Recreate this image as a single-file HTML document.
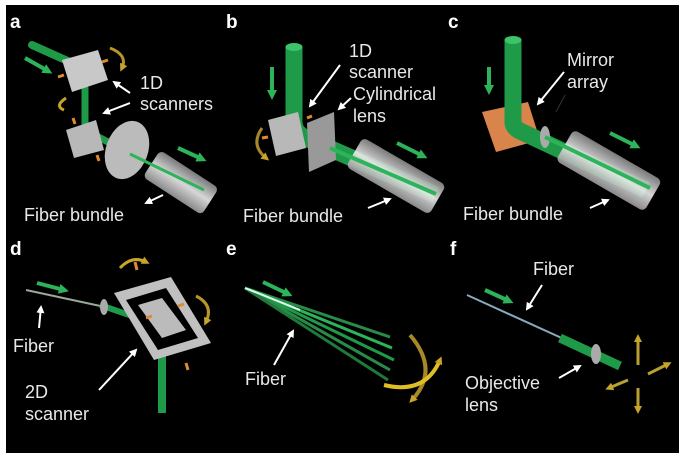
<!DOCTYPE html>
<html><head><style>html,body{margin:0;padding:0;background:#fff}svg{display:block}</style></head><body>
<svg width="685" height="458" viewBox="0 0 685 458" xmlns="http://www.w3.org/2000/svg" font-family="Liberation Sans, sans-serif">
<defs>
<marker id="w" markerWidth="8" markerHeight="8" refX="6" refY="4" orient="auto" markerUnits="userSpaceOnUse"><path d="M0,0 L8,4 L0,8 z" fill="#fff"/></marker>
<marker id="g" markerWidth="10" markerHeight="10" refX="5" refY="5" orient="auto" markerUnits="userSpaceOnUse"><path d="M0,0 L10,5 L0,10 z" fill="#2db35a"/></marker>
<marker id="y" markerWidth="8" markerHeight="8" refX="4" refY="4" orient="auto" markerUnits="userSpaceOnUse"><path d="M0,0 L8,4 L0,8 z" fill="#c9a42a"/></marker>
<linearGradient id="bun" x1="0" y1="0" x2="0" y2="1"><stop offset="0" stop-color="#888"/><stop offset=".5" stop-color="#eee"/><stop offset="1" stop-color="#999"/></linearGradient>
</defs>
<rect x="6" y="5" width="673" height="448" fill="#000"/>

<!-- panel a -->
<g stroke-linecap="round" fill="none">
<path d="M32,45 L70,62" stroke="#1f9a48" stroke-width="8"/>
<path d="M85,88 L85,130 L108,142" stroke="#1f9a48" stroke-width="7"/>
</g>
<polygon points="62,60 98,50 108,80 72,92" fill="#c8c8c8"/>
<polygon points="66,130 96,120 104,150 74,158" fill="#b8b8b8"/>
<g stroke="#e08a30" stroke-width="3"><path d="M58,77 L64,75"/><path d="M102,62 L108,60"/><path d="M73,118 L75,124"/><path d="M97,155 L99,161"/></g>
<ellipse cx="127" cy="150" rx="21" ry="30" fill="#bbb" transform="rotate(20 127 150)"/>
<g transform="rotate(33 180 182)"><rect x="146" y="166" width="70" height="32" rx="5" fill="url(#bun)" opacity=".9"/></g>
<path d="M130,154 L204,190" stroke="#2db35a" stroke-width="3"/>
<path d="M25,58 L48,71" stroke="#2db35a" stroke-width="4" marker-end="url(#g)"/>
<path d="M178,148 L202,159" stroke="#2db35a" stroke-width="4" marker-end="url(#g)"/>
<path d="M110,48 Q128,55 122,68" stroke="#b8952a" stroke-width="3" fill="none" marker-end="url(#y)"/>
<path d="M66,98 Q54,106 64,110" stroke="#c9a42a" stroke-width="3" fill="none"/>
<g stroke="#fff" stroke-width="2" fill="none" marker-end="url(#w)"><path d="M130,93 L114,82"/><path d="M130,103 L104,113"/><path d="M163,195 L146,203"/></g>

<!-- panel b -->
<path d="M294,47 L294,122 Q294,132 304,137 L436,195" stroke="#1f9a48" stroke-width="17" fill="none"/>
<ellipse cx="294" cy="47" rx="8.5" ry="4" fill="#3cc46a"/>
<polygon points="268,120 298,112 306,148 276,156" fill="#b8b8b8"/>
<g stroke="#e08a30" stroke-width="3"><path d="M262,138 L268,137"/><path d="M307,118 L312,116"/></g>
<polygon points="307,123 334,112 336,160 309,172" fill="#999"/>
<g transform="rotate(30 396 176)"><rect x="348" y="159" width="96" height="34" rx="5" fill="url(#bun)" opacity=".9"/></g>
<path d="M330,148 L436,194" stroke="#2db35a" stroke-width="4"/>
<path d="M272,67 L272,95" stroke="#2db35a" stroke-width="4" marker-end="url(#g)"/>
<path d="M397,143 L423,156" stroke="#2db35a" stroke-width="4" marker-end="url(#g)"/>
<path d="M262,128 Q250,145 266,158" stroke="#a8862a" stroke-width="3" fill="none" marker-end="url(#y)"/>
<g stroke="#fff" stroke-width="2" fill="none" marker-end="url(#w)"><path d="M340,65 L310,106"/><path d="M351,98 L339,109"/><path d="M368,208 L390,199"/></g>

<!-- panel c -->
<polygon points="482,112 528,102 540,140 496,152" fill="#d8844a"/>
<path d="M513,40 L513,122 Q513,128 522,132 L646,190" stroke="#1f9a48" stroke-width="17" fill="none"/>
<ellipse cx="513" cy="40" rx="8.5" ry="4" fill="#3cc46a"/>
<ellipse cx="545" cy="137" rx="5" ry="11" fill="#aaa"/>
<g transform="rotate(30 608 170)"><rect x="558" y="152" width="102" height="36" rx="5" fill="url(#bun)" opacity=".9"/></g>
<path d="M545,137 L650,188" stroke="#2db35a" stroke-width="4"/>
<path d="M489,67 L489,90" stroke="#2db35a" stroke-width="4" marker-end="url(#g)"/>
<path d="M610,133 L636,146" stroke="#2db35a" stroke-width="4" marker-end="url(#g)"/>
<path d="M565,95 L556,112" stroke="#333" stroke-width="1"/>
<g stroke="#fff" stroke-width="2" fill="none" marker-end="url(#w)"><path d="M564,72 L538,104"/><path d="M590,208 L608,200"/></g>

<!-- panel d -->
<path d="M26,290 L105,307" stroke="#9a9" stroke-width="2"/>
<path d="M100,305 L150,322" stroke="#1f9a48" stroke-width="6"/>
<ellipse cx="104" cy="307" rx="4" ry="8" fill="#aaa"/>
<path d="M162,350 L162,413" stroke="#1f9a48" stroke-width="8"/>
<polygon points="114,293 171,277 211,343 154,360" fill="#c0c0c0"/>
<polygon points="126,300 166,288 198,338 158,350" fill="#000"/>
<polygon points="138,305 162,298 186,330 162,338" fill="#bbb"/>
<g stroke="#e08a30" stroke-width="3"><path d="M135,262 L137,270"/><path d="M186,363 L188,370"/><path d="M146,318 L152,316"/><path d="M178,306 L184,304"/></g>
<path d="M37,283 L64,290" stroke="#2db35a" stroke-width="4" marker-end="url(#g)"/>
<path d="M120,268 Q132,255 146,262" stroke="#c9a42a" stroke-width="3" fill="none" marker-end="url(#y)"/>
<path d="M196,296 Q214,305 206,322" stroke="#b8952a" stroke-width="3" fill="none" marker-end="url(#y)"/>
<g stroke="#fff" stroke-width="2" fill="none" marker-end="url(#w)"><path d="M39,328 L41,307"/><path d="M99,390 L136,350"/></g>

<!-- panel e -->
<g stroke-width="3" fill="none">
<path d="M245,288 L390,337" stroke="#2a8a4a"/><path d="M245,288 L392,348" stroke="#2db35a"/><path d="M245,288 L394,360" stroke="#1f9a48"/><path d="M245,288 L390,370" stroke="#2a8a4a"/><path d="M245,288 L388,380" stroke="#1f7a3a"/>
<path d="M245,288 L300,310" stroke="#dfe" stroke-width="2"/>
</g>
<path d="M263,282 L288,294" stroke="#2db35a" stroke-width="4" marker-end="url(#g)"/>
<path d="M410,335 Q440,370 412,400" stroke="#a8862a" stroke-width="4" fill="none" marker-end="url(#y)"/>
<path d="M384,385 Q425,395 440,360" stroke="#e0c020" stroke-width="4" fill="none" marker-end="url(#y)"/>
<path d="M274,365 L293,331" stroke="#fff" stroke-width="2" marker-end="url(#w)"/>

<!-- panel f -->
<path d="M467,295 L588,350" stroke="#8ab" stroke-width="2"/>
<path d="M560,338 L620,366" stroke="#1f9a48" stroke-width="9"/>
<ellipse cx="596" cy="354" rx="5" ry="10" fill="#aaa"/>
<path d="M485,290 L509,301" stroke="#2db35a" stroke-width="4" marker-end="url(#g)"/>
<g stroke="#b8a030" stroke-width="3" marker-end="url(#y)"><path d="M638,365 L638,338"/><path d="M638,388 L638,410"/><path d="M628,380 L609,388"/><path d="M648,374 L668,364"/></g>
<g stroke="#fff" stroke-width="2" fill="none" marker-end="url(#w)"><path d="M542,285 L527,309"/><path d="M559,378 L580,366"/></g>

<g fill="#fff" font-size="19" font-weight="bold"><text x="10" y="28">a</text><text x="226" y="28">b</text><text x="448" y="28">c</text><text x="10" y="255">d</text><text x="226" y="255">e</text><text x="450" y="255">f</text></g>
<g fill="#e8e8e8" font-size="18">
<text x="140" y="89">1D</text><text x="140" y="110">scanners</text>
<text x="24" y="221">Fiber bundle</text>
<text x="349" y="57">1D</text><text x="349" y="78">scanner</text><text x="353" y="100">Cylindrical</text><text x="353" y="122">lens</text>
<text x="243" y="222">Fiber bundle</text>
<text x="567" y="66">Mirror</text><text x="567" y="88">array</text>
<text x="463" y="220">Fiber bundle</text>
<text x="13" y="352">Fiber</text><text x="25" y="398">2D</text><text x="25" y="420">scanner</text>
<text x="245" y="385">Fiber</text>
<text x="533" y="275">Fiber</text><text x="465" y="389">Objective</text><text x="465" y="411">lens</text>
</g>
</svg>
</body></html>
